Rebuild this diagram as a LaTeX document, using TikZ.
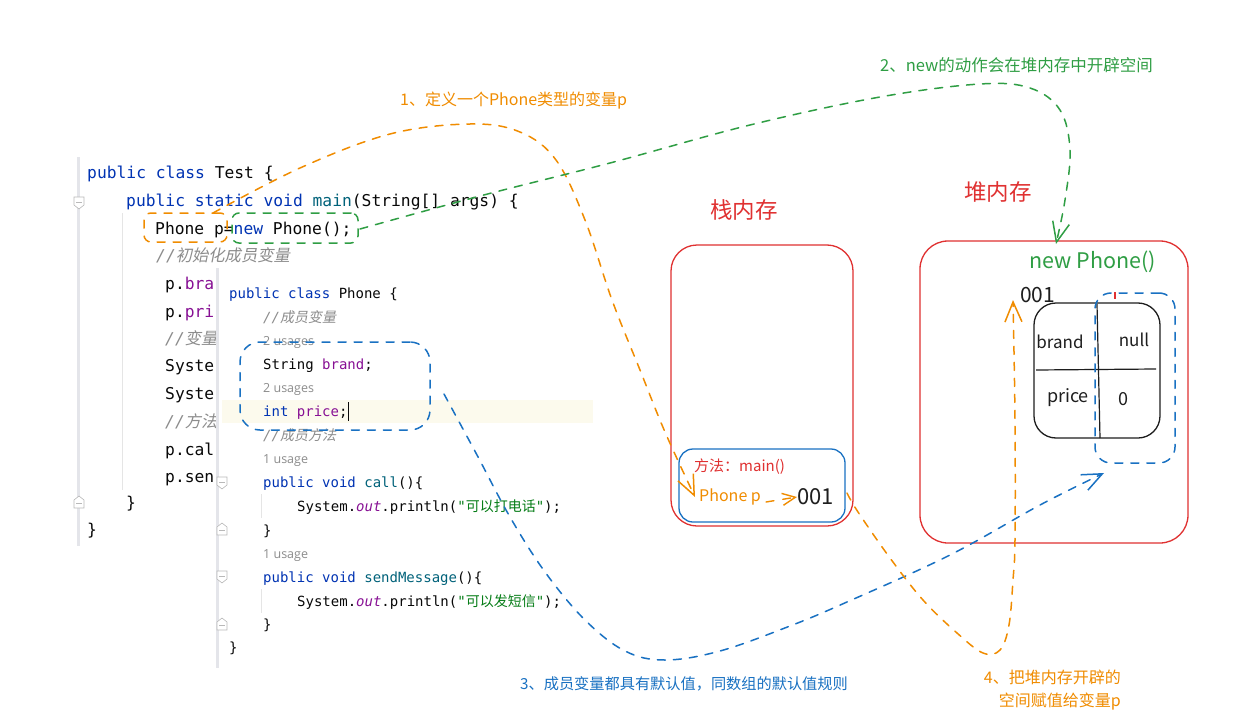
\documentclass[tikz,border=0pt]{standalone}
\usepackage{fontspec}
\usetikzlibrary{arrows.meta}
\newfontfamily\mono{DejaVu Sans Mono}[ItalicFont={DejaVu Sans Mono Oblique}]
\newfontfamily\cjk{Noto Sans CJK SC}
\newfontfamily\cjkit{Noto Sans CJK SC}[FakeSlant=0.2]
\newfontfamily\hintfont{Open Sans}
\newfontfamily\hand{Noto Sans CJK SC}
\definecolor{kw}{HTML}{0033B3}
\definecolor{fn}{HTML}{00627A}
\definecolor{fd}{HTML}{871094}
\definecolor{st}{HTML}{067D17}
\definecolor{cm}{HTML}{8C8C8C}
\definecolor{tx}{HTML}{080808}
\definecolor{exorange}{HTML}{F08C00}
\definecolor{exgreen}{HTML}{2F9E44}
\definecolor{exblue}{HTML}{1971C2}
\definecolor{exred}{HTML}{E03131}
\definecolor{exblack}{HTML}{1E1E1E}
\definecolor{gut}{HTML}{E4E5EA}
\definecolor{hl}{HTML}{FCFAED}
\newcommand\ckw[1]{\textcolor{kw}{#1}}
\newcommand\cfn[1]{\textcolor{fn}{#1}}
\newcommand\cfd[1]{\textcolor{fd}{#1}}
\newcommand\cstr[1]{\textcolor{st}{#1}}
\newcommand\cslash[1]{\textcolor{cm}{\itshape //{\cjkit #1}}}
\newcommand\folddown[2]{\draw[gray!55, line width=0.6pt, fill=white] (#1-5,#2-6) -- (#1+5,#2-6) -- (#1+5,#2+2) -- (#1,#2+6) -- (#1-5,#2+2) -- cycle; \draw[gray!55, line width=0.6pt] (#1-3,#2-1) -- (#1+3,#2-1);}
\newcommand\foldup[2]{\draw[gray!55, line width=0.6pt, fill=white] (#1-5,#2+6) -- (#1+5,#2+6) -- (#1+5,#2-2) -- (#1,#2-6) -- (#1-5,#2-2) -- cycle; \draw[gray!55, line width=0.6pt] (#1-3,#2+1) -- (#1+3,#2+1);}
\begin{document}
\begin{tikzpicture}[x=1pt,y=-1pt,
  code/.style={anchor=base west, inner sep=0pt, font=\mono\fontsize{16.3}{18}\selectfont, text=tx},
  pcode/.style={anchor=base west, inner sep=0pt, font=\mono\fontsize{14}{16}\selectfont, text=tx},
  hintx/.style={anchor=base west, inner sep=0pt, font=\hintfont\fontsize{12.5}{14}\selectfont, text=cm},
  ex/.style={line width=1.5pt, line cap=round, line join=round},
  exdash/.style={ex, dash pattern=on 8pt off 8pt},
  tipx/.style={-{Straight Barb[length=20pt,width=17pt,line width=1.5pt]}},
  membox/.style={draw=exred, line width=1.3pt, rounded corners=26pt, inner sep=0pt},
  lbl/.style={inner sep=0pt, font=\hand\fontsize{16}{20}\selectfont},
  title/.style={inner sep=0pt, font=\cjk\fontsize{22.5}{26}\selectfont, text=exred},
  hw/.style={inner sep=0pt, font=\hand\fontsize{16}{20}\selectfont}
]
\useasboundingbox (0,0) rectangle (1259,728);
\fill[white] (0,0) rectangle (1259,728);

% ---------- Test class editor ----------
\fill[gut] (77,157) rectangle (79.5,546);
\draw[gray!20, line width=0.8pt] (122,213) -- (122,490);
\folddown{79}{203}
\foldup{79}{502}
\node[code] (t1) at (87,178) {\ckw{public class} Test \{};
\node[code] (t2) at (126,206) {\ckw{public static void} \cfn{main}(String[] args) \{};
\node[code] (t3) at (155,234) {Phone p=\ckw{new} Phone();};
\node[code] (t4) at (156,261) {\cslash{初始化成员变量}};
\node[code] (t5) at (165,289) {p.\cfd{bra}};
\node[code] (t6) at (165,317) {p.\cfd{pri}};
\node[code] (t7) at (165,344) {\cslash{变量}};
\node[code] (t8) at (165,371) {Syste};
\node[code] (t9) at (165,399) {Syste};
\node[code] (t10) at (165,427) {\cslash{方法}};
\node[code] (t11) at (165,455) {p.cal};
\node[code] (t12) at (165,482) {p.sen};
\node[code] (t13) at (126,508) {\}};
\node[code] (t14) at (87,535) {\}};

% ---------- Phone class panel ----------
\fill[white] (216,268) rectangle (600,668);
\fill[gut] (216,268) rectangle (219,668);
\fill[hl] (222,400) rectangle (593,423);
\draw[gray!20, line width=0.8pt] (261,494) -- (261,518);
\draw[gray!20, line width=0.8pt] (261,589) -- (261,613);
\folddown{222}{483}
\foldup{222}{529}
\folddown{222}{577}
\foldup{222}{624}
\node[pcode] (p1) at (229,298) {\ckw{public class} Phone \{};
\node[pcode] (p2) at (263,322) {\cslash{成员变量}};
\node[hintx] (p3) at (263,345.5) {2 usages};
\node[pcode] (p4) at (263,369) {String \cfd{brand};};
\node[hintx] (p5) at (263,392.5) {2 usages};
\node[pcode] (p6) at (263,416) {\ckw{int} \cfd{price};};
\node[pcode] (p7) at (263,440) {\cslash{成员方法}};
\node[hintx] (p8) at (263,463.5) {1 usage};
\node[pcode] (p9) at (263,487) {\ckw{public void} \cfn{call}()\{};
\node[pcode] (p10) at (297,511) {System.\textcolor{fd}{\itshape out}.println(\cstr{"{\cjk 可以打电话}"});};
\node[pcode] (p11) at (263,535) {\}};
\node[hintx] (p12) at (263,558.5) {1 usage};
\node[pcode] (p13) at (263,582) {\ckw{public void} \cfn{sendMessage}()\{};
\node[pcode] (p14) at (297,606) {System.\textcolor{fd}{\itshape out}.println(\cstr{"{\cjk 可以发短信}"});};
\node[pcode] (p15) at (263,629) {\}};
\node[pcode] (p16) at (229,652) {\}};
\draw[tx, line width=1pt] (348,402) -- (348,421);

% ---------- highlight boxes on code ----------
\node[exdash, draw=exorange, rounded corners=7pt, minimum width=83pt, minimum height=29pt, inner sep=0pt] (obox) at (185.5,227.5) {};
\node[exdash, draw=exgreen, rounded corners=7pt, minimum width=126pt, minimum height=30pt, inner sep=0pt] (gbox) at (295,228) {};
\node[exdash, draw=exblue, rounded corners=20pt, minimum width=190pt, minimum height=88pt, inner sep=0pt] (bbox) at (335,386) {};

% ---------- stack memory ----------
\node[title] (stitle) at (744,210) {栈内存};
\node[membox, minimum width=182pt, minimum height=281pt] (stack) at (762,385.5) {};
\node[draw=exblue, line width=1.3pt, rounded corners=14pt, minimum width=166pt, minimum height=73pt, inner sep=0pt] (frame) at (762,485.5) {};
\node[hw, anchor=west, text=exred, font=\hand\fontsize{15}{18}\selectfont] (method) at (694,467) {方法：main()};
\node[hw, anchor=west, text=exorange, font=\hand\fontsize{16}{18}\selectfont] (pvar) at (699,497) {Phone p};
\node[hw, anchor=west, text=exblack, font=\hand\fontsize{22}{24}\selectfont] (saddr) at (797,497) {001};
\coordinate (pa1) at (766,502);
\draw[exorange, line width=1.4pt, line cap=round, dash pattern=on 8pt off 9pt, -{Straight Barb[length=13pt,width=12pt,line width=1.4pt]}] (pa1) -- (saddr.west);

% ---------- heap memory ----------
\node[title] (htitle) at (998,192) {堆内存};
\node[membox, rounded corners=28pt, minimum width=268pt, minimum height=302pt] (heap) at (1054,392) {};
\node[hw, anchor=west, text=exgreen, font=\hand\fontsize{21.5}{24}\selectfont] (newp) at (1029,262) {new Phone()};
\node[hw, anchor=west, text=exblack, font=\hand\fontsize{21}{22}\selectfont] (haddr) at (1020,295) {001};
\node[draw=exblack, line width=1.3pt, rounded corners=22pt, minimum width=126pt, minimum height=135pt, inner sep=0pt] (obj) at (1097,370.5) {};
\draw[exblack, line width=1.2pt] (1097,304) -- (1100,438);
\draw[exblack, line width=1.2pt] (1036,370) -- (1156,369);
\node[hw, text=exblack, font=\hand\fontsize{17}{20}\selectfont] (fbrand) at (1060,342) {brand};
\node[hw, text=exblack, font=\hand\fontsize{17}{20}\selectfont] (vnull) at (1134,340) {null};
\node[hw, text=exblack, font=\hand\fontsize{18}{20}\selectfont] (fprice) at (1068,398) {price};
\node[hw, text=exblack, font=\hand\fontsize{18}{20}\selectfont] (vzero) at (1123,399) {0};
\node[exdash, draw=exblue, rounded corners=16pt, minimum width=80pt, minimum height=170pt, inner sep=0pt] (dbox) at (1135,378) {};
\draw[exred, line width=1.2pt] (1115,292) -- (1115,299);

% ---------- labels ----------
\node[lbl, anchor=west, text=exorange] (l1) at (400,101) {1、定义一个Phone类型的变量p};
\node[lbl, anchor=west, text=exgreen, font=\hand\fontsize{16.5}{20}\selectfont] (l2) at (880,65) {2、new的动作会在堆内存中开辟空间};
\node[lbl, anchor=west, text=exblue, font=\hand\fontsize{15.2}{20}\selectfont] (l3) at (520,684) {3、成员变量都具有默认值，同数组的默认值规则};
\node[lbl, anchor=east, text=exorange, align=right, font=\hand\fontsize{16}{23}\selectfont] (l4) at (1121,690.5) {4、把堆内存开辟的\\空间赋值给变量p};

% ---------- connectors ----------
\coordinate (o1s) at (213,213);
\coordinate (o1e) at (695,497);
\draw[exdash, draw=exorange, tipx] plot[smooth, tension=0.6] coordinates {(o1s) (300,168) (390,134) (470,124) (520,132) (556,160) (585,220) (612,300) (640,370) (665,432) (o1e)};

\coordinate (g1s) at (360,229);
\coordinate (g1e) at (1056,244);
\draw[exdash, draw=exgreen, tipx] plot[smooth, tension=0.6] coordinates {(g1s) (480,196) (610,163) (750,125) (880,97) (980,84) (1030,88) (1060,110) (1070,150) (1065,200) (g1e)};

\coordinate (b1s) at (444,394);
\coordinate (b1e) at (1104,473);
\draw[exdash, draw=exblue, tipx] plot[smooth, tension=0.6] coordinates {(b1s) (477,455) (510,517) (545,572) (585,620) (625,651) (665,660) (720,651) (790,626) (847,602) (950,555) (1040,505) (b1e)};

\coordinate (o2s) at (847,493);
\coordinate (o2e) at (1013,300);
\draw[exdash, draw=exorange, tipx] plot[smooth, tension=0.6] coordinates {(o2s) (858,512) (890,558) (923,600) (957,633) (983,653) (1000,650) (1009,625) (1013,580) (1015,540) (1015,420) (o2e)};
\end{tikzpicture}
\end{document}
